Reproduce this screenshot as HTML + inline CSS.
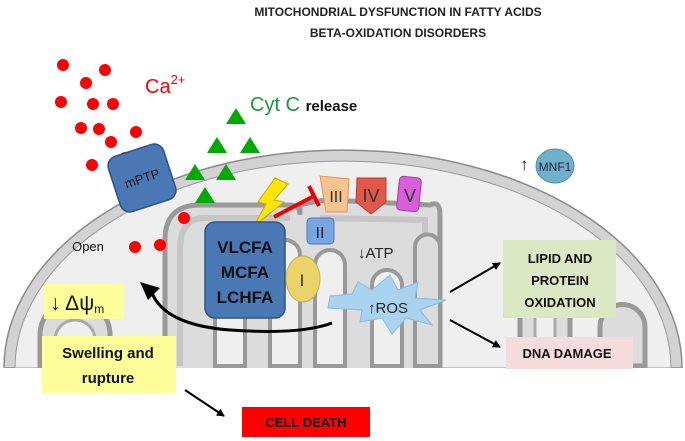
<!DOCTYPE html>
<html><head><meta charset="utf-8"><style>
html,body{margin:0;padding:0;background:#fff;width:685px;height:441px;overflow:hidden}
svg{display:block;font-family:"Liberation Sans",sans-serif}
</style></head><body>
<svg width="685" height="441" viewBox="0 0 685 441">
<defs>
<marker id="a" markerWidth="8" markerHeight="8" refX="7" refY="4" orient="auto" markerUnits="userSpaceOnUse"><path d="M0,0 L8,4 L0,8 Z" fill="#000"/></marker>
</defs>
<text x="398" y="16" text-anchor="middle" font-size="12" font-weight="bold" fill="#222">MITOCHONDRIAL DYSFUNCTION IN FATTY ACIDS</text>
<text x="398" y="37" text-anchor="middle" font-size="12" font-weight="bold" fill="#222">BETA-OXIDATION DISORDERS</text>
<path d="M4,368 A339,218 0 0 1 682,368 Z" fill="#d2d2d2" stroke="#8a8a8a" stroke-width="1.5"/>
<path d="M15,368 A328,207 0 0 1 671,368 Z" fill="#efefef" stroke="#9a9a9a" stroke-width="1"/>
<path d="M165,368 L165,240 Q165,205 200,205 L290,205 Q300,205 300,215 L300,205 Q320,200 330,200 L430,205 Q440,200 440,215 L440,368" fill="#dcdcdc" stroke="#999" stroke-width="5"/>
<path d="M180,366 L180,250 Q180,218 205,218 L290,218 M320,218 L425,220 L425,366" fill="none" stroke="#c6c6c6" stroke-width="6"/>
<path d="M215,366 L215,255 A15,15 0 0 1 245,255 L245,366 Z" fill="#efefef" stroke="#999" stroke-width="4"/>
<path d="M270,366 L270,255 A15,15 0 0 1 300,255 L300,366 Z" fill="#efefef" stroke="#999" stroke-width="4"/>
<path d="M315,366 L315,265 A15,15 0 0 1 345,265 L345,366 Z" fill="#efefef" stroke="#999" stroke-width="4"/>
<path d="M372,366 L372,285 A15,15 0 0 1 402,285 L402,366 Z" fill="#efefef" stroke="#999" stroke-width="4"/>
<path d="M415,366 L415,247 A12.5,12.5 0 0 1 440,247 L440,366 Z" fill="#dcdcdc" stroke="#999" stroke-width="4"/>
<path d="M40,366 L40,335 A30,30 0 0 1 110,335 L110,366 Z" fill="#dcdcdc" stroke="#999" stroke-width="5"/>
<path d="M55,366 L55,340 A20,20 0 0 1 95,340 L95,366 Z" fill="#efefef" stroke="#aaa" stroke-width="3"/>
<path d="M520,366 L520,278 A25,25 0 0 1 570,278 L570,366 Z" fill="#dcdcdc" stroke="#999" stroke-width="5"/>
<path d="M535,366 L535,278 A10,10 0 0 1 555,278 L555,366 Z" fill="#efefef" stroke="#aaa" stroke-width="3"/>
<path d="M600,366 L600,327 A22,22 0 0 1 645,327 L645,366 Z" fill="#dcdcdc" stroke="#999" stroke-width="5"/>
<rect x="0" y="368" width="685" height="2" fill="#fff"/>
<g fill="#f00">
<circle cx="63" cy="65" r="6"/><circle cx="105" cy="70" r="6"/><circle cx="86" cy="83" r="6"/>
<circle cx="61" cy="102" r="6"/><circle cx="93" cy="104" r="6"/><circle cx="113" cy="104" r="6"/>
<circle cx="81" cy="128" r="6"/><circle cx="99" cy="129" r="6"/><circle cx="136" cy="132" r="6"/>
<circle cx="111" cy="142" r="6"/><circle cx="125" cy="158" r="6"/><circle cx="92" cy="165" r="6"/>
<circle cx="184" cy="218" r="6"/><circle cx="135" cy="247" r="6"/><circle cx="160" cy="245" r="6"/>
</g>
<text x="145" y="93" font-size="20" fill="#f00">Ca<tspan dy="-9" font-size="13">2+</tspan></text>
<g fill="#0a0">
<path d="M226,124 L246,124 L236,108Z"/><path d="M207,153 L227,153 L217,137Z"/><path d="M240,153 L260,153 L250,137Z"/>
<path d="M185,180 L205,180 L195,164Z"/><path d="M216,180 L236,180 L226,164Z"/><path d="M195,203 L215,203 L205,187Z"/>
</g>
<text x="250" y="111" font-size="20" fill="#1a9a3a">Cyt C <tspan font-size="15" font-weight="bold" fill="#111">release</tspan></text>
<g transform="translate(142,178) rotate(-18)"><rect x="-29" y="-29" width="58" height="58" rx="10" fill="#4a78b4" stroke="#2c5384" stroke-width="1.5"/><text x="0" y="5" text-anchor="middle" font-size="13" fill="#111">mPTP</text></g>
<text x="88" y="251" text-anchor="middle" font-size="13" fill="#111">Open</text>
<path d="M275,178 L288,184 L274,200 L284,202 L254,226 L266,204 L258,202Z" fill="#ffe600" stroke="#c9a800" stroke-width="1"/>
<line x1="274" y1="217" x2="314" y2="196" stroke="#e00" stroke-width="4"/>
<line x1="309" y1="186" x2="319" y2="206" stroke="#e00" stroke-width="4"/>
<path d="M320,176 L349,179 L347,212 L326,212Z" fill="#f7c38e" stroke="#d99a5a"/>
<text x="336" y="202" text-anchor="middle" font-size="16" fill="#333">III</text>
<path d="M357,178 L386,178 L386,202 L371,214 L356,202Z" fill="#e0584a" stroke="#b94035"/>
<text x="371" y="202" text-anchor="middle" font-size="18" fill="#333">IV</text>
<rect x="398" y="177" width="22" height="34" rx="4" fill="#d95ed9" stroke="#aa3aaa" transform="rotate(6 409 194)"/>
<text x="410" y="202" text-anchor="middle" font-size="18" fill="#333">V</text>
<rect x="307" y="218" width="27" height="26" rx="4" fill="#7aa6e0" stroke="#4a78b4"/>
<text x="320" y="238" text-anchor="middle" font-size="16" fill="#224">II</text>
<rect x="205" y="222" width="80" height="96" rx="10" fill="#4a78b4" stroke="#2c5384" stroke-width="1.5"/>
<text x="245" y="253" text-anchor="middle" font-size="17" font-weight="bold" fill="#111">VLCFA</text>
<text x="245" y="278" text-anchor="middle" font-size="17" font-weight="bold" fill="#111">MCFA</text>
<text x="245" y="303" text-anchor="middle" font-size="17" font-weight="bold" fill="#111">LCHFA</text>
<ellipse cx="303" cy="279" rx="17" ry="23" fill="#e9d36a" stroke="#c9b04a"/>
<text x="302" y="286" text-anchor="middle" font-size="17" fill="#333">I</text>
<text x="358" y="258" font-size="15" fill="#222"><tspan font-weight="bold">↓</tspan>ATP</text>
<path d="M330,296 L352,294 L358,282 L372,290 L390,275 L398,290 L418,282 L415,298 L446,300 L420,310 L432,325 L406,318 L392,334 L382,318 L360,322 L362,310 L328,308Z" fill="#a9d3ee" stroke="#8bbbe0"/>
<text x="388" y="313" text-anchor="middle" font-size="15" fill="#222"><tspan font-weight="bold">↑</tspan>ROS</text>
<path d="M332,323 Q300,335 230,330 Q165,325 152,293" fill="none" stroke="#000" stroke-width="3"/>
<path d="M140,282 L160,288 L148,300Z" fill="#000"/>
<line x1="450" y1="292" x2="500" y2="263" stroke="#000" stroke-width="2" marker-end="url(#a)"/>
<line x1="450" y1="320" x2="500" y2="347" stroke="#000" stroke-width="2" marker-end="url(#a)"/>
<text x="520" y="170" font-size="17" font-weight="bold" fill="#111">↑</text>
<ellipse cx="555" cy="166" rx="19" ry="17" fill="#70b0c8" stroke="#4a90a8"/>
<text x="555" y="171" text-anchor="middle" font-size="12" fill="#224">MNF1</text>
<rect x="503" y="240" width="113" height="78" fill="#dbe8c4"/>
<text x="560" y="263" text-anchor="middle" font-size="13" font-weight="bold" fill="#111">LIPID AND</text>
<text x="560" y="285" text-anchor="middle" font-size="13" font-weight="bold" fill="#111">PROTEIN</text>
<text x="560" y="307" text-anchor="middle" font-size="13" font-weight="bold" fill="#111">OXIDATION</text>
<rect x="506" y="337" width="127" height="32" fill="#f6dcdc"/>
<text x="567" y="358" text-anchor="middle" font-size="13" font-weight="bold" fill="#111">DNA DAMAGE</text>
<rect x="44" y="284" width="80" height="35" fill="#fdfd9a"/>
<text x="50" y="310" font-size="21" fill="#111">↓ Δψ<tspan font-size="12" dy="3">m</tspan></text>
<rect x="42" y="336" width="134" height="57" fill="#fdfd9a"/>
<text x="108" y="358" text-anchor="middle" font-size="15" font-weight="bold" fill="#111">Swelling and</text>
<text x="108" y="383" text-anchor="middle" font-size="15" font-weight="bold" fill="#111">rupture</text>
<line x1="185" y1="390" x2="224" y2="416" stroke="#000" stroke-width="2" marker-end="url(#a)"/>
<rect x="242" y="407" width="128" height="30" fill="#f00"/>
<text x="306" y="427" text-anchor="middle" font-size="13" font-weight="bold" fill="#111">CELL DEATH</text>
</svg>
</body></html>
